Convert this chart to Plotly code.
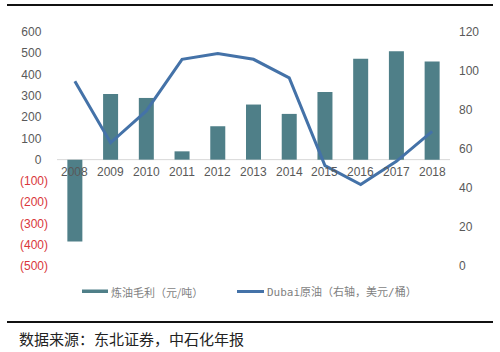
import plotly.graph_objects as go

years = ["2008", "2009", "2010", "2011", "2012", "2013", "2014", "2015", "2016", "2017", "2018"]
refining_margin = [-385, 309, 290, 39, 157, 259, 215, 318, 474, 510, 461]
dubai_price = [94.8, 63.2, 79.5, 106.0, 109.0, 106.0, 96.5, 51.5, 41.8, 53.7, 69.0]

left_ticks = [600, 500, 400, 300, 200, 100, 0, -100, -200, -300, -400, -500]
right_ticks = [0, 20, 40, 60, 80, 100, 120]

bar_name = "炼油毛利（元/吨）"
line_name = "Dubai原油（右轴，美元/桶）"
source_text = "数据来源：东北证券，中石化年报"

BAR_COLOR = "#4f7f88"
LINE_COLOR = "#4472a8"
GRAY = "#595959"
RED = "#d9363b"


def fmt(v):
    if v < 0:
        return f"<span style='color:{RED}'>({abs(v)})</span>"
    return f"{v}\u2007"


fig = go.Figure()
fig.add_trace(go.Bar(x=years, y=refining_margin, name=bar_name,
                     marker=dict(color=BAR_COLOR, line=dict(width=0)),
                     width=0.42, yaxis="y"))
fig.add_trace(go.Scatter(x=years, y=dubai_price, name=line_name, mode="lines",
                         line=dict(color=LINE_COLOR, width=3), yaxis="y2"))

annotations = []
for i, yr in enumerate(years):
    annotations.append(dict(x=i, y=0, xref="x", yref="y", text=yr, showarrow=False,
                            yanchor="top", yshift=-3,
                            font=dict(family="Liberation Sans, Arial", size=12, color=GRAY)))

shapes = []
# custom legend
shapes.append(dict(type="rect", xref="paper", yref="paper",
                   x0=(82 - 57) / 393, x1=(108 - 57) / 393,
                   y0=(266 - 293) / 234, y1=(266 - 289.5) / 234,
                   fillcolor=BAR_COLOR, line=dict(width=0)))
shapes.append(dict(type="line", xref="paper", yref="paper",
                   x0=(237 - 57) / 393, x1=(264 - 57) / 393,
                   y0=(266 - 291.5) / 234, y1=(266 - 291.5) / 234,
                   line=dict(color=LINE_COLOR, width=3)))
annotations.append(dict(xref="paper", yref="paper", x=(109 - 57) / 393, y=(266 - 291.5) / 234,
                        text=bar_name, showarrow=False, xanchor="left", yanchor="middle",
                        font=dict(family="Noto Sans CJK SC", size=11, color="#7f7f7f")))
annotations.append(dict(xref="paper", yref="paper", x=(265 - 57) / 393, y=(266 - 291.5) / 234,
                        text=line_name, showarrow=False, xanchor="left", yanchor="middle",
                        font=dict(family="DejaVu Sans Mono, Noto Sans CJK SC", size=11, color="#7f7f7f")))

# top and bottom rules
shapes.append(dict(type="line", xref="paper", yref="paper",
                   x0=(7 - 57) / 393, x1=(493 - 57) / 393,
                   y0=(266 - 5) / 234, y1=(266 - 5) / 234,
                   line=dict(color="#111111", width=2)))
shapes.append(dict(type="line", xref="paper", yref="paper",
                   x0=(7 - 57) / 393, x1=(493 - 57) / 393,
                   y0=(266 - 322) / 234, y1=(266 - 322) / 234,
                   line=dict(color="#111111", width=2)))
annotations.append(dict(xref="paper", yref="paper", x=(17 - 57) / 393, y=(266 - 338) / 234,
                        text=source_text, showarrow=False, xanchor="left", yanchor="middle",
                        font=dict(family="Noto Sans CJK SC", size=15, color="#222222")))

# zero line
shapes.append(dict(type="line", xref="paper", yref="y", x0=0, x1=1, y0=0, y1=0,
                   line=dict(color="#d9d9d9", width=1), layer="below"))

fig.update_layout(
    width=500, height=352,
    margin=dict(l=57, r=50, t=32, b=86),
    paper_bgcolor="white", plot_bgcolor="white",
    showlegend=False,
    xaxis=dict(type="category", showticklabels=False, showgrid=False, zeroline=False,
               showline=False, range=[-0.5, 10.5]),
    yaxis=dict(range=[-500, 600], tickvals=left_ticks, ticktext=[fmt(v) for v in left_ticks],
               showgrid=False, zeroline=False, showline=False, ticks="",
               ticklabelstandoff=8,
               tickfont=dict(family="Liberation Sans, Arial", size=12, color=GRAY)),
    yaxis2=dict(range=[0, 120], tickvals=right_ticks, overlaying="y", side="right",
                showgrid=False, zeroline=False, showline=False, ticks="",
                ticklabelstandoff=8,
                tickfont=dict(family="Liberation Sans, Arial", size=12, color=GRAY)),
    shapes=shapes,
    annotations=annotations,
)

fig.write_html("out.html")
